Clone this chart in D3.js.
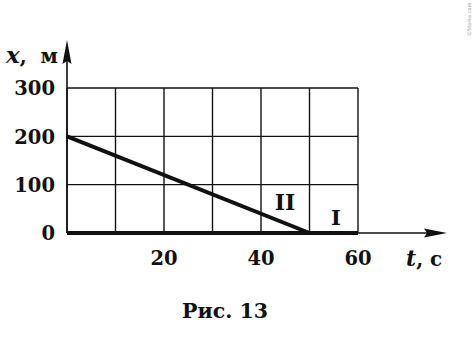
<!DOCTYPE html>
<html><head><meta charset="utf-8">
<script src="https://cdn.jsdelivr.net/npm/d3@7"></script>
<style>html,body{margin:0;padding:0;background:#fff}svg{display:block}</style>
</head><body>
<script>
const xTicks = [20, 40, 60];
const yTicks = [0, 100, 200, 300];
const gridT = [0, 10, 20, 30, 40, 50, 60];
const gridX = [0, 100, 200, 300];
const seriesI_t = [0, 60];
const seriesI_x = [0, 0];
const seriesII_t = [0, 50];
const seriesII_x = [200, 0];
const labelI = "I", labelII = "II";
const caption = "Рис. 13";

const W = 474, H = 338;
const svg = d3.select("body").append("svg").attr("width", W).attr("height", H);
const x = d3.scaleLinear().domain([0, 60]).range([67, 358]);
const y = d3.scaleLinear().domain([0, 300]).range([233, 88]);
const font = "'DejaVu Serif', 'Liberation Serif', serif";

// grid
svg.append("g").selectAll("line").data(gridT).join("line")
  .attr("x1", d => x(d)).attr("x2", d => x(d))
  .attr("y1", y(0)).attr("y2", y(300))
  .attr("stroke", "#111").attr("stroke-width", 1.4);
svg.append("g").selectAll("line").data(gridX).join("line")
  .attr("x1", x(0)).attr("x2", x(60))
  .attr("y1", d => y(d)).attr("y2", d => y(d))
  .attr("stroke", "#111").attr("stroke-width", 1.4);

// axes with arrows
svg.append("line").attr("x1", x(0)).attr("x2", 428).attr("y1", y(0)).attr("y2", y(0))
  .attr("stroke", "#111").attr("stroke-width", 1.4);
svg.append("path").attr("d", `M447,${y(0)} L424,${y(0)-4.5} L427,${y(0)} L424,${y(0)+4.5} Z`).attr("fill", "#111");
svg.append("line").attr("x1", x(0)).attr("x2", x(0)).attr("y1", y(0)).attr("y2", 60)
  .attr("stroke", "#111").attr("stroke-width", 1.6);
svg.append("path").attr("d", `M${x(0)},40 L${x(0)-4.5},64 L${x(0)},61 L${x(0)+4.5},64 Z`).attr("fill", "#111");

// series
const line = d3.line().x(d => x(d[0])).y(d => y(d[1]));
svg.append("path").datum(seriesI_t.map((t, i) => [t, seriesI_x[i]]))
  .attr("d", line).attr("stroke", "#111").attr("stroke-width", 4).attr("fill", "none");
svg.append("path").datum(seriesII_t.map((t, i) => [t, seriesII_x[i]]))
  .attr("d", line).attr("stroke", "#111").attr("stroke-width", 4).attr("fill", "none")
  .attr("stroke-linecap", "butt");

// tick labels
svg.append("g").selectAll("text").data(yTicks).join("text")
  .attr("x", 55).attr("y", d => y(d)).attr("dy", "0.37em")
  .attr("text-anchor", "end").attr("font-family", font).attr("font-weight", "bold")
  .attr("font-size", 19.5).attr("fill", "#111").text(d => d);
svg.append("g").selectAll("text").data(xTicks).join("text")
  .attr("x", d => x(d)).attr("y", 265)
  .attr("text-anchor", "middle").attr("font-family", font).attr("font-weight", "bold")
  .attr("font-size", 19.5).attr("fill", "#111").text(d => d);

// axis titles
const yt = svg.append("text").attr("x", 6).attr("y", 63).attr("font-family", font)
  .attr("font-weight", "bold").attr("font-size", 20).attr("fill", "#111");
yt.append("tspan").attr("font-style", "italic").attr("font-size", 23).text("x");
yt.append("tspan").text(",\u00a0\u00a0м");
const xt = svg.append("text").attr("x", 406).attr("y", 266).attr("font-family", font)
  .attr("font-weight", "bold").attr("font-size", 20).attr("fill", "#111");
xt.append("tspan").attr("font-style", "italic").attr("font-size", 22).text("t");
xt.append("tspan").text(",\u00a0с");

// series labels
svg.append("text").attr("x", 285).attr("y", 210).attr("text-anchor", "middle")
  .attr("font-family", font).attr("font-weight", "bold").attr("font-size", 22)
  .attr("fill", "#111").text(labelII);
svg.append("text").attr("x", 336).attr("y", 225).attr("text-anchor", "middle")
  .attr("font-family", font).attr("font-weight", "bold").attr("font-size", 21)
  .attr("fill", "#111").text(labelI);

// caption
svg.append("text").attr("x", 225).attr("y", 318).attr("text-anchor", "middle")
  .attr("font-family", font).attr("font-weight", "bold").attr("font-size", 20.5)
  .attr("fill", "#111").text(caption);

// watermark
svg.append("text").attr("transform", "translate(471,36) rotate(-90)")
  .attr("font-family", "'DejaVu Sans', sans-serif").attr("font-size", 5)
  .attr("fill", "#999").text("©5terka.com");
</script>
</body></html>
